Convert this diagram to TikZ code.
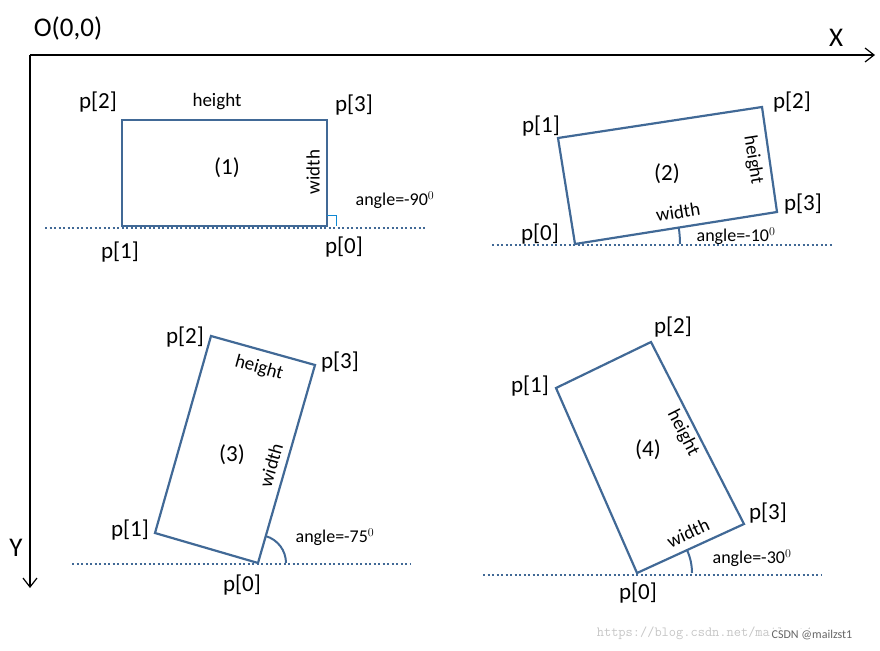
\documentclass[tikz,border=0pt]{standalone}
\usepackage{fontspec}
\setmainfont{Carlito}
\usetikzlibrary{arrows.meta}
\begin{document}
\begin{tikzpicture}[x=1pt,y=-1pt,
  rc/.style={draw=rcol,line width=2.2pt,line join=miter},
  dl/.style={draw=rcol,line width=1.8pt,dash pattern=on 2pt off 2.5pt},
  pl/.style={font=\fontsize{23}{25}\selectfont,inner sep=1pt},
  el/.style={font=\fontsize{19}{21}\selectfont,inner sep=1pt},
  al/.style={font=\fontsize{18}{20}\selectfont,inner sep=1pt},
  ar/.style={draw=rcol,line width=2pt}]
\definecolor{rcol}{RGB}{65,105,150}
\useasboundingbox (0,0) rectangle (880,650);
% axes
\coordinate (o) at (30,55); \coordinate (xe) at (875,55); \coordinate (ye) at (30,588);
\draw[line width=1.2pt,-{Straight Barb[length=9pt,width=14pt]}] (o) -- (xe);
\draw[line width=1.2pt,-{Straight Barb[length=9pt,width=14pt]}] (o) -- (ye);
\node[font=\fontsize{27}{29}\selectfont] (on) at (68,28) {O(0,0)};
\node[font=\fontsize{27}{29}\selectfont] (xn) at (836,38) {X};
\node[font=\fontsize{27}{29}\selectfont] (yn) at (16,548) {Y};
% rect 1
\coordinate (a0) at (327,226); \coordinate (a1) at (122,226); \coordinate (a2) at (122,120); \coordinate (a3) at (327,120);
\draw[rc] (a0)--(a1)--(a2)--(a3)--cycle;
\coordinate (d1a) at (45,228); \coordinate (d1b) at (426,228);
\draw[dl] (d1a)--(d1b);
\draw[cyan!70!blue,line width=0.8pt] (327,215) -- (336,215) -- (336,226);
\node[pl] (l12) at (98,102) {p[2]};
\node[el] (h1) at (217,102) {height};
\node[pl] (l13) at (354,105) {p[3]};
\node[pl] (n1) at (227,168) {(1)};
\node[el,rotate=90] (w1) at (313,172) {width};
\node[al] (an1) at (395,200) {angle=-90$^0$};
\node[pl] (l11) at (120,252) {p[1]};
\node[pl] (l10) at (344,247) {p[0]};
% rect 2
\coordinate (b0) at (575,244); \coordinate (b1) at (558,138); \coordinate (b2) at (762,107); \coordinate (b3) at (777,212);
\draw[rc] (b0)--(b1)--(b2)--(b3)--cycle;
\draw[dl] (492,245)--(833,245);
\draw[ar] (b0) ++(105,0) arc[start angle=0,end angle=-9,radius=105];
\node[pl] (l21) at (541,126) {p[1]};
\node[pl] (l22) at (792,102) {p[2]};
\node[pl] (l23) at (803,204) {p[3]};
\node[pl] (l20) at (540,234) {p[0]};
\node[pl] (n2) at (667,174) {(2)};
\node[el,rotate=-81] (h2) at (753,160) {height};
\node[el,rotate=9] (w2) at (678,212) {width};
\node[al] (an2) at (736,236) {angle=-10$^0$};
% rect 3
\coordinate (c0) at (258,563); \coordinate (c1) at (155,533); \coordinate (c2) at (211,336); \coordinate (c3) at (315,365);
\draw[rc] (c0)--(c1)--(c2)--(c3)--cycle;
\draw[dl] (72,564)--(410,564);
\draw[ar] (c0) ++(28,0) arc[start angle=0,end angle=-74,radius=28];
\node[pl] (l32) at (185,337) {p[2]};
\node[pl] (l33) at (340,362) {p[3]};
\node[pl] (l31) at (130,530) {p[1]};
\node[pl] (l30) at (242,585) {p[0]};
\node[pl] (n3) at (232,455) {(3)};
\node[el,rotate=-15.6] (h3) at (259,368) {height};
\node[el,rotate=74] (w3) at (271,465) {width};
\node[al] (an3) at (335,537) {angle=-75$^0$};
% rect 4
\coordinate (e0) at (637,573); \coordinate (e1) at (556,388); \coordinate (e2) at (651,342); \coordinate (e3) at (744,524);
\draw[rc] (e0)--(e1)--(e2)--(e3)--cycle;
\draw[dl] (483,575)--(822,575);
\draw[ar] (e0) ++(55,0) arc[start angle=0,end angle=-25,radius=55];
\node[pl] (l42) at (673,327) {p[2]};
\node[pl] (l41) at (530,386) {p[1]};
\node[pl] (l43) at (768,513) {p[3]};
\node[pl] (l40) at (638,593) {p[0]};
\node[pl] (n4) at (648,450) {(4)};
\node[el,rotate=-63] (h4) at (683,433) {height};
\node[el,rotate=24.6] (w4) at (688,533) {width};
\node[al] (an4) at (752,558) {angle=-30$^0$};
% watermark
\node[gray!45,font=\ttfamily\fontsize{14}{16}\selectfont] (wm) at (705,633) {https://blog.csdn.net/mailzst1};
\node[gray!80!black,font=\fontsize{12}{14}\selectfont,fill=white,inner sep=1pt] (wm2) at (812,635) {CSDN @mailzst1};
\end{tikzpicture}
\end{document}
